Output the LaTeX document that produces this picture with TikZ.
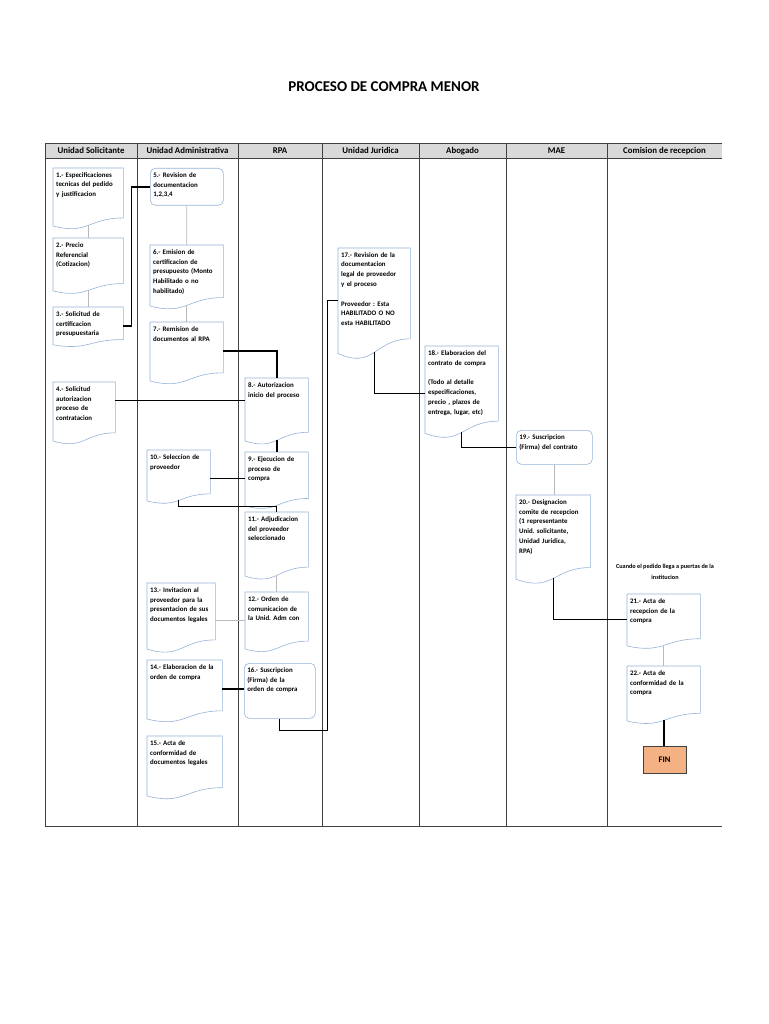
\documentclass[tikz,border=0pt]{standalone}
\usepackage{fontspec}
\setmainfont{Carlito}
\usepackage{tikz}
\usetikzlibrary{calc,positioning}
\definecolor{pcblue}{RGB}{149,179,215}
\definecolor{pcgrey}{RGB}{217,217,217}
\definecolor{pcline}{RGB}{64,64,64}
\definecolor{pcthin}{RGB}{185,185,185}
\definecolor{pcorange}{RGB}{244,177,131}
\newcommand{\pcfont}{\fontsize{6.9}{9.8}\selectfont\bfseries\frenchspacing}
\tikzstyle{docbox} = [anchor=north west, inner sep=3pt, text height=6pt, align=left, font=\pcfont]
\tikzstyle{roundbox} = [docbox, draw=pcblue, line width=0.6pt, rounded corners=5pt]
\tikzstyle{docline} = [draw=pcblue, line width=0.6pt]
\tikzstyle{lane} = [font=\fontsize{8.8}{10}\selectfont\bfseries, text height=6.5pt, text depth=2pt]
\tikzstyle{flow} = [line width=0.7pt, black]
\tikzstyle{heavy} = [line width=1.8pt, black]
\tikzstyle{faint} = [line width=0.6pt, pcthin]

\begin{document}
\begin{tikzpicture}[x=1pt, y=-1pt]
\useasboundingbox (0,0) rectangle (768,1024);
\node (title) at (384,87) {\fontsize{15}{17}\selectfont\bfseries PROCESO DE COMPRA MENOR};

% Lanes
\fill[pcgrey] (45,143) rectangle (722,158);
\draw[line width=0.9pt, pcline] (722,143) -- (45,143) -- (45,826) -- (722,826);
\draw[line width=0.9pt, pcline] (45,158) -- (722,158);
\foreach \x in {137,238,322,419,506,607}
  \draw[line width=0.9pt, pcline] (\x,143) -- (\x,826);
\node (hUS) [lane] at (91,151) {Unidad Solicitante};
\node (hUA) [lane] at (187.5,151) {Unidad Administrativa};
\node (hRPA) [lane] at (280,151) {RPA};
\node (hUJ) [lane] at (370.5,151) {Unidad Juridica};
\node (hAB) [lane] at (462.5,151) {Abogado};
\node (hMAE) [lane] at (556.5,151) {MAE};
\node (hCR) [lane] at (664.5,151) {Comision de recepcion};

% Unidad Solicitante
\node (s1) [docbox, text width=64pt, text depth=45pt] at (53,168) {1.- Especificaciones\\tecnicas del pedido\\y justificacion};
\node (s2) [docbox, text width=64pt, text depth=40pt] at (53,238) {2.- Precio\\Referencial\\(Cotizacion)};
\node (s3) [docbox, text width=64pt, text depth=25pt] at (53,307) {3.- Solicitud de\\certificacion\\presupuestaria};
\node (s4) [docbox, text width=56pt, text depth=46pt] at (53,382) {4.- Solicitud\\autorizacion\\proceso de\\contratacion};

% Unidad Administrativa
\node (s5) [roundbox, text width=67pt, text depth=25pt] at (150,168) {5.- Revision de\\documentacion\\1,2,3,4};
\node (s6) [docbox, text width=67pt, text depth=48pt] at (150,245) {6.- Emision de\\certificacion de\\presupuesto (Monto\\Habilitado o no\\habilitado)};
\node (s7) [docbox, text width=67pt, text depth=46pt] at (150,322) {7.- Remision de\\documentos al RPA};
\node (s10) [docbox, text width=57pt, text depth=38pt] at (147,450) {10.- Seleccion de\\proveedor};
\node (s13) [docbox, text width=62pt, text depth=53pt] at (147,583) {13.- Invitacion al\\proveedor para la\\presentacion de sus\\documentos legales};
\node (s14) [docbox, text width=69pt, text depth=46pt] at (147,660) {14.- Elaboracion de la\\orden de compra};
\node (s15) [docbox, text width=69pt, text depth=47pt] at (147,736) {15.- Acta de\\conformidad de\\documentos legales};

% RPA
\node (s8) [docbox, text width=57pt, text depth=50pt] at (245,378) {8.- Autorizacion\\inicio del proceso};
\node (s9) [docbox, text width=57pt, text depth=41pt] at (245,452) {9.- Ejecucion de\\proceso de\\compra};
\node (s11) [docbox, text width=57pt, text depth=51pt] at (245,512) {11.- Adjudicacion\\del proveedor\\seleccionado};
\node (s12) [docbox, text width=57pt, text depth=44pt] at (245,592) {12.- Orden de\\comunicacion de\\la Unid. Adm con};
\node (s16) [roundbox, text width=65pt, text depth=43pt] at (244,663) {16.- Suscripcion\\(Firma) de la\\orden de compra};

% Unidad Juridica / Abogado
\node (s17) [docbox, text width=66pt, text depth=92pt] at (338,248) {17.- Revision de la\\documentacion\\legal de proveedor\\y el proceso\\[9.8pt]Proveedor : Esta\\HABILITADO O NO\\esta HABILITADO};
\node (s18) [docbox, text width=67pt, text depth=74pt] at (425,346) {18.- Elaboracion del\\contrato de compra\\[9.8pt](Todo al detalle\\especificaciones,\\precio , plazos de\\entrega, lugar, etc)};

% MAE
\node (s19) [roundbox, text width=70pt, text depth=22pt] at (516,430) {19.- Suscripcion\\(Firma) del contrato};
\node (s20) [docbox, text width=68pt, text depth=71pt] at (516,495) {20.- Designacion\\comite de recepcion\\(1 representante\\Unid. solicitante,\\Unidad Juridica,\\RPA)};

% Comision de recepcion
\node (note) [font=\fontsize{6.2}{10.5}\selectfont\bfseries, align=center] at (665,572) {Cuando el pedido llega a puertas de la\\institucion};
\node (s21) [docbox, text width=67pt, text depth=39pt] at (627,594) {21.- Acta de\\recepcion de la\\compra};
\node (s22) [docbox, text width=67pt, text depth=42pt] at (627,666) {22.- Acta de\\conformidad de la\\compra};
\node (fin) [draw=pcline, fill=pcorange, line width=0.7pt, minimum width=43pt, minimum height=27pt, font=\fontsize{8.5}{9}\selectfont\bfseries] at (664.5,759.5) {FIN};

% Document outlines
\foreach \n in {s1,s2,s3,s4,s6,s7,s8,s9,s10,s11,s12,s13,s14,s15,s17,s18,s20,s21,s22}
  \draw[docline] (\n.north west) -- (\n.north east) -- ($(\n.north east)!0.87!(\n.south east)$)
    .. controls ($(\n.north)!0.87!(\n.south)$) and ($(\n.north)!1.17!(\n.south)$) .. ($(\n.north west)!1.01!(\n.south west)$) -- cycle;

% Connectors
\draw[faint] (s1.south) -- (s2.north);
\draw[faint] (s2.south) -- (s3.north);
\draw[heavy] (s3.east) -- ++(8,0) |- (s5.west);
\draw[faint] (s5.south) -- (s6.north);
\draw[faint] (s6.south) -- (s7.north);
\draw[heavy] (s7.east) -| (s8.north);
\draw[flow] ([yshift=9pt]s8.west) -- ([yshift=9pt]s8.west -| s4.east);
\draw[heavy] (s8.south) -- (s9.north);
\draw[flow] (s9.west) -- (s9.west -| s10.east);
\draw[flow] (s10.south) -- ++(0,6) -| (s11.north);
\draw[faint] (s11.south) -- (s12.north);
\draw[faint] (s12.west) -- (s12.west -| s13.east);
\draw[heavy] (s14.east) -- (s14.east -| s16.west);
\draw[flow] (s16.south) -- ++(0,12) -| ([xshift=-11pt]s17.west) -- (s17.west);
\draw[flow] (s17.south) |- ([yshift=-4pt]s18.west);
\draw[flow] (s18.south) |- (s19.west);
\draw[faint] (s19.south) -- (s19.south |- s20.north);
\draw[flow] (s20.south) |- (s21.west);
\draw[faint] (s21.south) -- (s22.north);
\draw[heavy] (s22.south) -- (s22.south |- fin.north);
\end{tikzpicture}
\end{document}
